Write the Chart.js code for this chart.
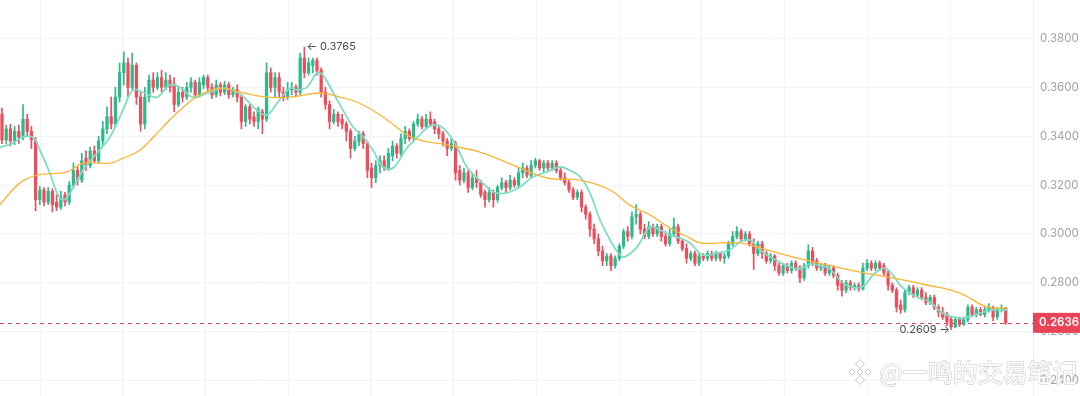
<!DOCTYPE html>
<html>
<head>
<meta charset="utf-8">
<script src="https://cdn.jsdelivr.net/npm/chart.js@4/dist/chart.umd.min.js"></script>
<style>
  html, body { margin: 0; padding: 0; background: #fff; }
  #wrap { width: 1080px; height: 396px; position: relative; }
</style>
</head>
<body>
<div id="wrap"><canvas id="mainChart"></canvas></div>
<script>
// prices in 1/10000 units
const opens = [
  3490,3385,3430,3380,3420,3395,3470,3420,3380,3140,
  3180,3130,3175,3130,3110,3160,3130,3200,3260,3220,
  3310,3280,3340,3300,3380,3430,3480,3450,3560,3660,
  3700,3600,3690,3560,3450,3560,3630,3600,3640,3600,
  3630,3610,3530,3580,3560,3600,3620,3570,3610,3640,
  3600,3570,3610,3580,3610,3570,3590,3560,3460,3520,
  3480,3460,3500,3470,3660,3600,3640,3580,3560,3590,
  3600,3580,3720,3660,3690,3710,3670,3580,3530,3460,
  3490,3470,3450,3420,3350,3380,3410,3370,3270,3230,
  3280,3300,3270,3320,3360,3330,3390,3420,3390,3450,
  3470,3440,3470,3460,3430,3410,3380,3350,3370,3260,
  3220,3250,3190,3230,3210,3170,3140,3170,3140,3190,
  3210,3190,3220,3200,3250,3270,3240,3280,3300,3270,
  3290,3270,3290,3260,3230,3210,3180,3150,3170,3110,
  3080,3020,2980,2930,2890,2910,2870,2900,2950,3010,
  2990,3070,3080,3020,2990,3030,3000,3030,2990,2960,
  3000,3030,2970,2940,2900,2920,2880,2910,2900,2920,
  2900,2920,2900,2910,2960,2990,3010,2980,3000,2960,
  2920,2960,2920,2890,2910,2870,2840,2870,2850,2880,
  2860,2820,2870,2930,2890,2860,2870,2840,2860,2830,
  2800,2770,2800,2780,2790,2775,2860,2880,2860,2880,
  2870,2840,2790,2770,2710,2690,2760,2780,2750,2770,
  2740,2720,2740,2700,2680,2670,2650,2620,2650,2630,
  2650,2700,2670,2690,2670,2690,2700,2660,2690,2695
];
const highs = [
  3515,3445,3450,3440,3445,3530,3490,3440,3395,3195,
  3190,3190,3185,3160,3175,3170,3215,3290,3275,3330,
  3340,3355,3360,3400,3460,3520,3560,3600,3700,3745,
  3720,3740,3700,3580,3600,3650,3660,3660,3670,3660,
  3650,3640,3600,3600,3620,3640,3630,3640,3650,3650,
  3615,3630,3620,3625,3620,3600,3610,3570,3530,3530,
  3500,3520,3510,3700,3680,3660,3660,3600,3620,3620,
  3610,3740,3765,3720,3720,3720,3680,3600,3545,3510,
  3500,3490,3460,3430,3400,3420,3420,3380,3290,3300,
  3320,3320,3350,3380,3370,3410,3440,3430,3460,3490,
  3480,3490,3500,3470,3440,3420,3390,3390,3380,3280,
  3270,3260,3250,3260,3220,3180,3190,3180,3200,3230,
  3220,3240,3230,3270,3290,3280,3300,3310,3305,3300,
  3300,3300,3300,3270,3250,3220,3190,3180,3180,3120,
  3090,3040,3000,2950,2920,2920,2910,2960,3020,3030,
  3090,3120,3090,3040,3050,3040,3040,3040,3010,3020,
  3065,3040,2980,2960,2930,2930,2920,2920,2930,2930,
  2930,2925,2920,2970,3010,3030,3020,3010,3010,2980,
  2970,2970,2930,2920,2915,2880,2880,2880,2890,2890,
  2870,2880,2955,2945,2900,2880,2880,2870,2870,2840,
  2810,2810,2810,2800,2800,2880,2895,2890,2890,2890,
  2880,2850,2800,2780,2730,2770,2790,2790,2780,2780,
  2760,2750,2750,2710,2700,2680,2660,2660,2660,2660,
  2710,2710,2700,2700,2700,2715,2705,2700,2710,2700
];
const lows = [
  3370,3370,3360,3365,3370,3385,3400,3350,3095,3120,
  3115,3120,3090,3095,3100,3115,3120,3190,3200,3210,
  3260,3270,3290,3290,3360,3410,3430,3440,3540,3610,
  3560,3590,3530,3420,3430,3540,3580,3590,3580,3590,
  3580,3500,3520,3540,3550,3580,3560,3560,3595,3580,
  3555,3560,3565,3570,3555,3560,3540,3430,3440,3450,
  3440,3430,3410,3460,3580,3560,3560,3545,3550,3570,
  3565,3570,3640,3650,3660,3650,3560,3510,3430,3450,
  3440,3430,3380,3310,3340,3360,3350,3230,3190,3210,
  3250,3260,3260,3300,3310,3320,3370,3380,3380,3440,
  3430,3430,3440,3410,3390,3360,3320,3340,3220,3200,
  3210,3170,3180,3190,3150,3110,3130,3110,3130,3180,
  3170,3180,3190,3190,3230,3230,3230,3270,3260,3250,
  3260,3260,3250,3220,3200,3170,3140,3140,3090,3060,
  2990,2960,2910,2870,2870,2850,2860,2890,2940,2970,
  2980,3040,3000,2980,2980,2990,2990,2970,2950,2950,
  2990,2960,2930,2880,2890,2870,2870,2890,2890,2890,
  2890,2890,2880,2900,2950,2980,2970,2970,2950,2855,
  2910,2900,2880,2880,2850,2830,2830,2840,2840,2850,
  2800,2810,2860,2870,2850,2850,2830,2830,2820,2770,
  2745,2760,2770,2770,2765,2770,2850,2850,2850,2850,
  2830,2770,2760,2680,2675,2680,2750,2740,2740,2730,
  2710,2710,2690,2660,2650,2625,2609,2615,2620,2625,
  2640,2660,2660,2665,2660,2680,2645,2650,2680,2630
];
const closes = [
  3385,3430,3380,3420,3395,3470,3420,3385,3140,3180,
  3130,3175,3120,3110,3150,3130,3200,3260,3220,3300,
  3280,3340,3300,3380,3430,3480,3450,3560,3660,3700,
  3600,3690,3560,3450,3560,3630,3600,3640,3600,3630,
  3600,3530,3580,3560,3600,3620,3570,3620,3640,3600,
  3570,3610,3580,3610,3570,3590,3560,3460,3520,3470,
  3460,3510,3470,3660,3600,3640,3580,3560,3590,3600,
  3580,3720,3660,3700,3710,3670,3580,3530,3460,3490,
  3460,3450,3420,3350,3380,3410,3370,3260,3230,3280,
  3300,3270,3330,3360,3330,3390,3420,3390,3450,3470,
  3440,3470,3450,3430,3410,3380,3350,3370,3250,3220,
  3250,3190,3230,3210,3160,3140,3170,3140,3190,3210,
  3190,3220,3200,3250,3270,3240,3280,3300,3270,3290,
  3270,3290,3260,3230,3210,3180,3150,3170,3110,3080,
  3020,2980,2930,2890,2910,2870,2900,2950,3010,2990,
  3070,3080,3020,2990,3030,3000,3030,2990,2960,3000,
  3030,2970,2940,2900,2920,2880,2910,2900,2920,2900,
  2920,2900,2910,2960,2990,3010,2980,3000,2960,2920,
  2960,2920,2890,2910,2870,2840,2870,2850,2880,2860,
  2820,2870,2930,2880,2860,2870,2840,2860,2830,2790,
  2770,2800,2780,2790,2775,2860,2880,2860,2880,2860,
  2840,2790,2770,2700,2690,2760,2780,2750,2770,2740,
  2720,2740,2700,2680,2660,2640,2620,2650,2630,2650,
  2700,2670,2690,2670,2690,2700,2660,2690,2695,2636
];

// moving averages at candle positions
const fastAt = [-0.5,2.6,5,7.4,9,11.4,13.1,14.5,16.2,19.3,22.6,25.7,28.8,31.2,33.6,36.9,40,42.4,45.5,49.5,
  52.6,56,58.3,60.7,63.1,65.5,68.6,70.2,72.6,75,76.4,78.8,81.2,83.6,86,88.3,90.7,93.1,96.4,98.8,
  101.2,103.6,106,108.3,110.7,113.1,115.5,117.4,120.2,123.3,126.4,129.8,132.9,135.2,137.6,140,142.4,144.8,147.1,148.3,
  151.2,154.3,156.7,159,161.4,163.8,166.9,170.2,173.3,175.7,178.1,180.5,182.9,187.6,190,192.4,194.8,197.1,200.2,203.6,
  205.5,207.4,210.2,212.1,214.5,217.9,221,224,227.4,229.8,232.9,236,239.3];
const fastMA = [3355,3372,3397,3395,3344,3249,3168,3139,3168,3262,3331,3397,3507,3589,3580,3560,3610,3600,3560,3580,
  3597,3580,3548,3507,3487,3536,3597,3590,3600,3659,3650,3580,3507,3438,3397,3344,3274,3270,3352,3393,
  3434,3446,3417,3356,3274,3229,3192,3168,3168,3192,3233,3254,3274,3260,3235,3168,3057,2975,2914,2906,
  2946,3028,3016,2996,2983,2963,2914,2922,2934,2967,2975,2934,2906,2865,2857,2877,2870,2857,2800,2779,
  2791,2832,2860,2832,2779,2742,2721,2676,2656,2658,2676,2689,2689];
const slowAt = [-0.5,4.3,8.3,15.5,19.3,25.7,28.8,32.9,37.6,42.4,47.1,51.9,56.7,63.1,68.6,75.7,80.5,84.5,89.3,92.4,
  97.9,106,113.8,121.7,129.8,137.6,144.8,149.5,154.3,159,163.8,166.2,171,175.7,180.5,188.3,196.4,204.3,212.1,220.2,
  228.1,234.5,239.3];
const slowMA = [3120,3209,3241,3254,3290,3290,3310,3344,3425,3507,3569,3597,3580,3560,3560,3577,3560,3540,3495,3458,
  3393,3364,3335,3282,3229,3220,3180,3118,3078,3025,2983,2963,2963,2963,2943,2906,2873,2844,2820,2791,
  2758,2701,2697];

const yTicks = [0.24, 0.26, 0.28, 0.30, 0.32, 0.34, 0.36, 0.38];
const watermark = '@一鸣的交易笔记';

const UP = '#2cb98c';
const DOWN = '#ee4d5c';
const toPrice = v => v / 10000;

const candleColors = closes.map((c, i) => c >= opens[i] ? UP : DOWN);
const wicks = closes.map((c, i) => ({ x: i, y: [toPrice(lows[i]), toPrice(highs[i])] }));
const bodies = closes.map((c, i) => ({ x: i, y: [toPrice(opens[i]), toPrice(c)] }));
const fastPts = fastAt.map((x, k) => ({ x: x, y: toPrice(fastMA[k]) }));
const slowPts = slowAt.map((x, k) => ({ x: x, y: toPrice(slowMA[k]) }));

const hiIdx = highs.indexOf(Math.max(...highs));
const loIdx = lows.indexOf(Math.min(...lows));
const lastClose = toPrice(closes[closes.length - 1]);

const overlay = {
  id: 'overlay',
  beforeDatasetsDraw(chart) {
    const { ctx, chartArea, scales } = chart;
    const y = Math.round(scales.y.getPixelForValue(lastClose)) + 0.5;
    ctx.save();
    ctx.strokeStyle = '#e94359';
    ctx.lineWidth = 1;
    ctx.setLineDash([4, 4]);
    ctx.beginPath();
    ctx.moveTo(chartArea.left, y);
    ctx.lineTo(chartArea.right, y);
    ctx.stroke();
    ctx.restore();
  },
  afterDraw(chart) {
    const { ctx, chartArea, scales } = chart;
    const x = scales.x, y = scales.y;
    ctx.save();
    ctx.font = '11px Inter, "Noto Sans", sans-serif';
    ctx.fillStyle = '#474d57';
    ctx.textBaseline = 'middle';
    // high / low markers
    ctx.textAlign = 'left';
    ctx.fillText('← ' + toPrice(highs[hiIdx]).toFixed(4), x.getPixelForValue(hiIdx) + 2, y.getPixelForValue(toPrice(highs[hiIdx])));
    ctx.textAlign = 'right';
    ctx.fillText(toPrice(lows[loIdx]).toFixed(4) + ' →', x.getPixelForValue(loIdx) - 1, y.getPixelForValue(toPrice(lows[loIdx])));

    // last price tag
    const py = y.getPixelForValue(lastClose);
    ctx.fillStyle = '#e94359';
    ctx.fillRect(chartArea.right, py - 10, chart.width - chartArea.right, 20);
    ctx.fillStyle = '#fff';
    ctx.font = '600 11.5px Inter, "Noto Sans", sans-serif';
    ctx.textAlign = 'left';
    ctx.fillText(lastClose.toFixed(4), chartArea.right + 6, py);

    // watermark
    const cx = 860, cy = 372;
    ctx.strokeStyle = '#c4c6c9';
    ctx.fillStyle = '#fff';
    ctx.lineWidth = 1;
    const diamond = (dx, dy, r) => {
      ctx.beginPath();
      ctx.moveTo(cx + dx, cy + dy - r);
      ctx.lineTo(cx + dx + r, cy + dy);
      ctx.lineTo(cx + dx, cy + dy + r);
      ctx.lineTo(cx + dx - r, cy + dy);
      ctx.closePath();
      ctx.fill();
      ctx.stroke();
    };
    diamond(0, -8, 4.5);
    diamond(-8, 0, 3);
    diamond(8, 0, 3);
    diamond(0, 0, 3);
    diamond(0, 8, 4.5);
    ctx.font = '25px "Noto Sans CJK SC", sans-serif';
    ctx.textAlign = 'left';
    ctx.textBaseline = 'middle';
    ctx.lineWidth = 1.1;
    ctx.strokeText(watermark, 879, cy);
    ctx.fillText(watermark, 879, cy);
    ctx.restore();
  }
};

Chart.defaults.font.family = 'Inter, "Noto Sans", sans-serif';
Chart.defaults.font.size = 11.5;

new Chart(document.getElementById('mainChart').getContext('2d'), {
  type: 'bar',
  data: {
    datasets: [
      { type: 'line', data: slowPts, borderColor: '#f8b637', borderWidth: 1.3, pointRadius: 0, tension: 0.4, order: 0 },
      { type: 'line', data: fastPts, borderColor: '#7fdcc6', borderWidth: 1.8, pointRadius: 0, tension: 0.4, order: 0 },
      { type: 'bar', data: bodies, backgroundColor: candleColors, barThickness: 2.6, minBarLength: 1, grouped: false, order: 1 },
      { type: 'bar', data: wicks, backgroundColor: candleColors, barThickness: 1, grouped: false, order: 2 }
    ]
  },
  options: {
    responsive: true, maintainAspectRatio: false, animation: false, events: [],
    layout: { padding: 0 },
    plugins: { legend: { display: false }, tooltip: { enabled: false } },
    scales: {
      x: {
        type: 'linear', min: -0.48, max: 245.5, offset: false,
        ticks: { display: false },
        border: { display: false },
        grid: { color: '#f3f4f6', drawTicks: false, offset: false },
        afterBuildTicks: scale => {
          const t = [];
          for (let v = 9.05; v < 245; v += 19.7) t.push({ value: v });
          scale.ticks = t;
        },
        afterFit: scale => {
          scale.height = 0;
          scale.paddingLeft = 0; scale.paddingRight = 0;
          scale.paddingTop = 0; scale.paddingBottom = 0;
        }
      },
      y: {
        position: 'right', min: 0.23366, max: 0.39576, beginAtZero: false,
        border: { display: true, color: '#eef0f2' },
        grid: { color: '#f3f4f6', drawTicks: false },
        ticks: { color: '#9ea3aa', padding: 7, callback: v => v.toFixed(4) },
        afterBuildTicks: scale => { scale.ticks = yTicks.map(v => ({ value: v })); },
        afterFit: scale => {
          scale.width = 47;
          scale.paddingTop = 0; scale.paddingBottom = 0;
        }
      }
    }
  },
  plugins: [overlay]
});
</script>
</body>
</html>
